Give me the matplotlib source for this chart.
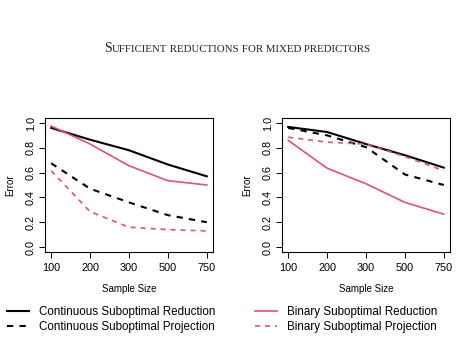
import matplotlib.pyplot as plt
from matplotlib.lines import Line2D
from matplotlib.offsetbox import TextArea, HPacker, AnchoredOffsetbox

# =========================
# DATA
# =========================

sample_sizes = ["100", "200", "300", "500", "750"]

# left panel
left_cont_red = [0.96, 0.865, 0.78, 0.665, 0.57]
left_cont_proj = [0.675, 0.47, 0.36, 0.257, 0.20]
left_bin_red = [0.975, 0.83, 0.655, 0.535, 0.50]
left_bin_proj = [0.615, 0.285, 0.16, 0.14, 0.13]

# right panel
right_cont_red = [0.968, 0.927, 0.83, 0.74, 0.64]
right_cont_proj = [0.96, 0.90, 0.805, 0.585, 0.50]
right_bin_red = [0.86, 0.635, 0.51, 0.36, 0.265]
right_bin_proj = [0.885, 0.845, 0.83, 0.73, 0.615]

y_ticks = [0.0, 0.2, 0.4, 0.6, 0.8, 1.0]

legend_labels = [
    "Continuous Suboptimal Reduction",
    "Continuous Suboptimal Projection",
    "Binary Suboptimal Reduction",
    "Binary Suboptimal Projection",
]

# =========================
# STYLE
# =========================

plt.rcParams["font.family"] = ["Liberation Sans", "DejaVu Sans"]

RED = "#DF536B"
W, H = 474, 352

fig = plt.figure(figsize=(W / 100, H / 100), dpi=100)


def px_axes(x0, x1, y0, y1):
    return fig.add_axes([x0 / W, 1 - y1 / H, (x1 - x0) / W, (y1 - y0) / H])


def draw_panel(ax, cont_red, cont_proj, bin_red, bin_proj):
    x = list(range(1, len(sample_sizes) + 1))
    ax.plot(x, cont_red, color="black", lw=1.5)
    ax.plot(x, cont_proj, color="black", lw=1.5, ls=(0, (3, 3)))
    ax.plot(x, bin_red, color=RED, lw=1.2)
    ax.plot(x, bin_proj, color=RED, lw=1.2, ls=(0, (3, 3)))
    ax.set_xlim(0.84, 5.16)
    ax.set_ylim(-0.04, 1.04)
    ax.set_xticks(x)
    ax.set_xticklabels(sample_sizes)
    ax.set_yticks(y_ticks)
    ax.set_yticklabels([f"{v:.1f}" for v in y_ticks], rotation=90, va="center")
    ax.tick_params(labelsize=7.8, length=4, width=0.7)
    ax.tick_params(axis="x", pad=4)
    ax.tick_params(axis="y", pad=2.5)
    for s in ax.spines.values():
        s.set_linewidth(0.8)
    ax.set_xlabel("Sample Size", fontsize=7, labelpad=8)
    ax.set_ylabel("Error", fontsize=7, labelpad=8)


ax1 = px_axes(45, 213, 118, 252)
draw_panel(ax1, left_cont_red, left_cont_proj, left_bin_red, left_bin_proj)

ax2 = px_axes(282, 450, 118, 252)
draw_panel(ax2, right_cont_red, right_cont_proj, right_bin_red, right_bin_proj)

# =========================
# TITLE (small caps)
# =========================

serif = ["Liberation Serif", "DejaVu Serif"]
words = ["SUFFICIENT", "REDUCTIONS", "FOR", "MIXED", "PREDICTORS"]
parts = []
for i, w in enumerate(words):
    if i == 0:
        parts.append(TextArea(w[0], textprops=dict(size=10, family=serif, color="#222222")))
        parts.append(TextArea(w[1:], textprops=dict(size=7.8, family=serif, color="#222222")))
    else:
        parts.append(TextArea(" " + w, textprops=dict(size=7.8, family=serif, color="#222222")))
title_box = HPacker(children=parts, align="baseline", pad=0, sep=0)
anchored = AnchoredOffsetbox(loc="center", child=title_box, frameon=False,
                             bbox_to_anchor=(0.5, 1 - 49 / H),
                             bbox_transform=fig.transFigure, pad=0, borderpad=0)
fig.add_artist(anchored)

# =========================
# LEGENDS
# =========================

h_cont = [Line2D([], [], color="black", lw=1.5),
          Line2D([], [], color="black", lw=1.5, ls=(0, (3, 3)))]
h_bin = [Line2D([], [], color=RED, lw=1.2),
         Line2D([], [], color=RED, lw=1.2, ls=(0, (3, 3)))]

leg_kw = dict(frameon=False, fontsize=8.4, handlelength=1.9, handletextpad=0.85,
              labelspacing=0.25, borderpad=0, borderaxespad=0, loc="upper left")
fig.legend(h_cont, legend_labels[:2], bbox_to_anchor=(7 / W, 1 - 306 / H), **leg_kw)
fig.legend(h_bin, legend_labels[2:], bbox_to_anchor=(255 / W, 1 - 306 / H), **leg_kw)

plt.savefig("out.png", dpi=100)
